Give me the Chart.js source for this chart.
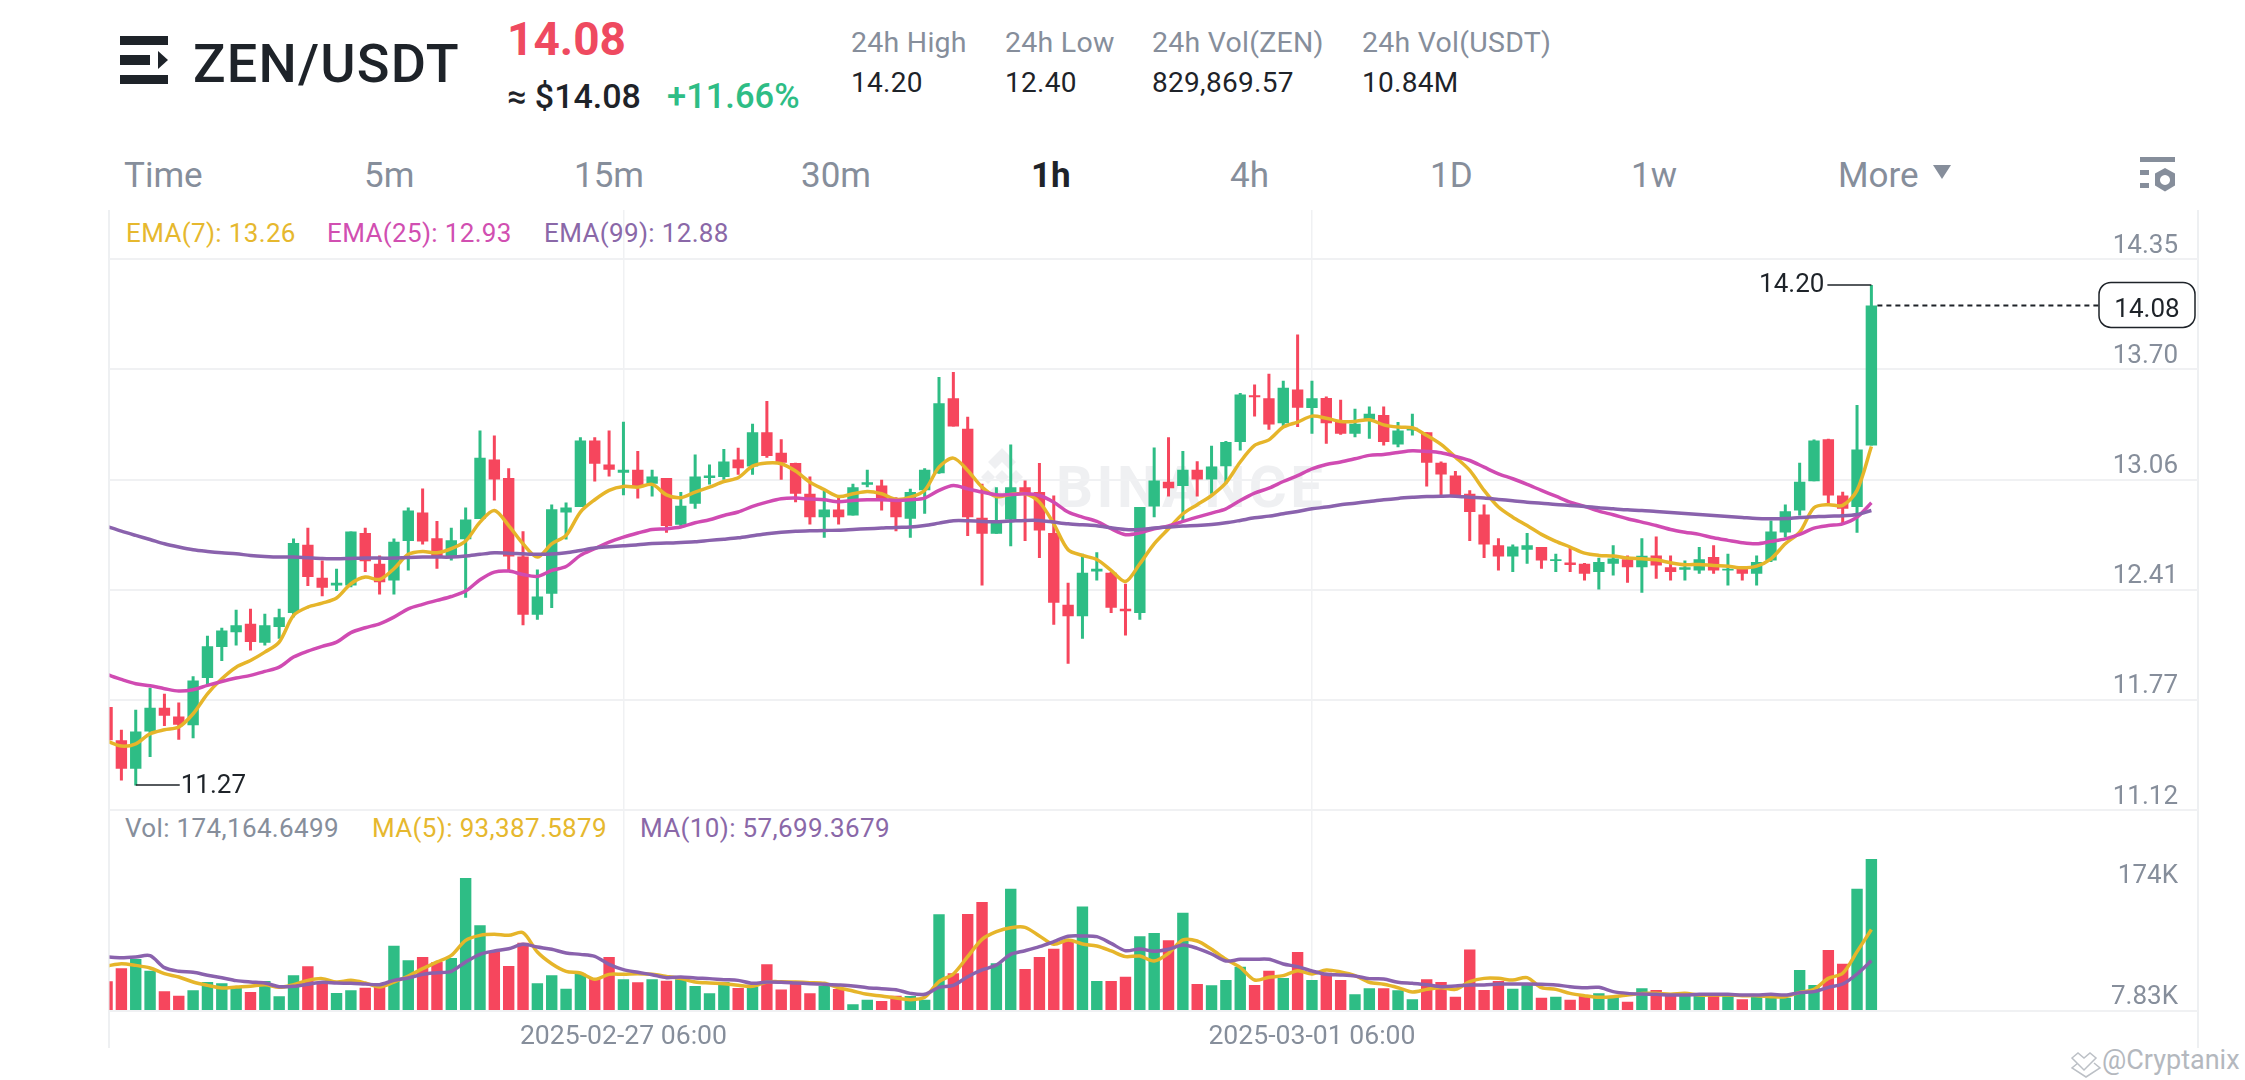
<!DOCTYPE html>
<html>
<head>
<meta charset="utf-8">
<title>ZEN/USDT</title>
<script src="https://cdn.jsdelivr.net/npm/chart.js@4/dist/chart.umd.js"></script>
<style>
  html, body { margin: 0; padding: 0; background: #fff; }
  body { width: 2245px; height: 1080px; overflow: hidden; position: relative; font-family: Roboto, sans-serif; color: #1e2329; }
  canvas { position: absolute; left: 0; }
  #priceChart { top: 210px; }
  #volChart { top: 810px; }
  .t { position: absolute; white-space: nowrap; line-height: 1; transform: translateY(-50%); }
  .gray { color: #868e9b; }
  .tab { font-size: 35px; color: #868e9b; top: 175px; }
  .head { font-size: 28.5px; color: #868e9b; top: 43px; letter-spacing: .25px; }
  .val { font-size: 28px; color: #1e2329; top: 83px; letter-spacing: .3px; }
  .leg { font-size: 26px; letter-spacing: .35px; }
  .frame { position: absolute; top: 210px; height: 838px; width: 2px; background: #eef0f2; }
</style>
</head>
<body>
<div class="frame" style="left:108px"></div>
<div class="frame" style="left:2197px"></div>

<svg style="position:absolute;left:0;top:0" width="2245" height="1080">
  <!-- header logo -->
  <g fill="#1e2329">
    <rect x="120" y="36" width="48" height="9"/>
    <rect x="120" y="55" width="30" height="10"/>
    <polygon points="158,51 168,60 158,69"/>
    <rect x="120" y="75" width="48" height="9"/>
  </g>
  <!-- settings icon -->
  <g fill="#868e9b">
    <rect x="2140" y="157" width="35" height="5"/>
    <rect x="2140" y="170" width="9" height="5"/>
    <rect x="2140" y="183" width="9" height="5"/>
    <path fill-rule="evenodd" d="M2165 168l10 5.500v12l-10 6l-10-6v-12zM2165 175a5 5 0 1 0 .01 0z"/>
    <polygon points="1933,165 1951,165 1942,179"/>
  </g>
  <!-- BINANCE mark -->
  <g fill="#eff0f2">
    <path d="M1002 448l14 14-7 7-7-7-7 7-7-7zM981 477l7-7 7 7-7 7zM1009 477l7-7 7 7-7 7zM995 477l7-7 7 7-7 7zM1002 507l-14-14 7-7 7 7 7-7 7 7z"/>
  </g>
  <!-- footer mark -->
  <g fill="none" stroke="#bcc0c6" stroke-width="1.500">
    <path d="M2072 1058l6-5 6 5 6-5 6 5-12 12zM2078 1063l-6 5 14 9 14-9-6-5"/>
  </g>
</svg>
<div class="t" style="left:1056px;top:487px;font-size:58px;font-weight:700;color:#eff0f2;letter-spacing:3.5px">BINANCE</div>
<div class="t" style="left:2102px;top:1060px;font-size:27px;color:#b4b8be">@Cryptanix</div>

<div class="t" style="left:193px;top:64px;font-size:54px;font-weight:500;letter-spacing:1.2px">ZEN/USDT</div>
<div class="t" style="left:507px;top:39px;font-size:46px;font-weight:700;color:#ef4a60">14.08</div>
<div class="t" style="left:507px;top:96px;font-size:34px;font-weight:500">≈ $14.08</div>
<div class="t" style="left:667px;top:96px;font-size:34.5px;font-weight:500;color:#2ebd85">+11.66%</div>

<div class="t head" style="left:851px">24h High</div>
<div class="t val" style="left:851px">14.20</div>
<div class="t head" style="left:1005px">24h Low</div>
<div class="t val" style="left:1005px">12.40</div>
<div class="t head" style="left:1152px">24h Vol(ZEN)</div>
<div class="t val" style="left:1152px">829,869.57</div>
<div class="t head" style="left:1362px">24h Vol(USDT)</div>
<div class="t val" style="left:1362px">10.84M</div>

<div class="t tab" style="left:124px">Time</div>
<div class="t tab" style="left:364px">5m</div>
<div class="t tab" style="left:574px">15m</div>
<div class="t tab" style="left:801px">30m</div>
<div class="t tab" style="left:1031px;color:#1e2329;font-weight:700">1h</div>
<div class="t tab" style="left:1230px">4h</div>
<div class="t tab" style="left:1430px">1D</div>
<div class="t tab" style="left:1631px">1w</div>
<div class="t tab" style="left:1838px">More</div>

<div class="t leg" style="left:126px;top:233px;color:#e6b82e">EMA(7): 13.26</div>
<div class="t leg" style="left:327px;top:233px;color:#d14fb1">EMA(25): 12.93</div>
<div class="t leg" style="left:544px;top:233px;color:#8a68a8">EMA(99): 12.88</div>
<div class="t leg gray" style="left:125px;top:828px">Vol: 174,164.6499</div>
<div class="t leg" style="left:372px;top:828px;color:#e6b82e">MA(5): 93,387.5879</div>
<div class="t leg" style="left:640px;top:828px;color:#8a68a8">MA(10): 57,699.3679</div>

<canvas id="priceChart" width="2245" height="602"></canvas>
<canvas id="volChart" width="2245" height="240"></canvas>

<script>
const openPrices = [11.726,11.531,11.365,11.583,11.722,11.671,11.619,11.896,12.078,12.165,12.214,12.103,12.195,12.277,12.677,12.484,12.439,12.439,12.746,12.566,12.468,12.699,12.867,12.716,12.605,12.710,12.828,13.177,13.068,12.609,12.267,12.390,12.867,12.898,13.288,13.148,13.099,13.117,13.035,13.068,12.794,12.917,13.068,13.074,13.177,13.136,13.337,13.216,13.156,12.976,12.839,12.884,12.849,13.029,13.025,12.937,12.830,12.996,13.097,13.536,13.357,12.835,12.742,12.826,13.015,12.986,12.746,12.326,12.259,12.521,12.513,12.302,12.277,12.902,13.046,13.021,13.117,13.060,13.138,13.279,13.554,13.536,13.390,13.587,13.478,13.538,13.396,13.328,13.411,13.437,13.265,13.347,13.337,13.158,13.083,12.976,12.855,12.675,12.609,12.648,12.664,12.582,12.574,12.566,12.517,12.566,12.593,12.546,12.615,12.546,12.531,12.527,12.605,12.527,12.537,12.507,12.585,12.749,12.878,13.050,13.296,12.966,12.898,13.259];
const closePrices = [11.531,11.365,11.583,11.722,11.675,11.623,11.882,12.083,12.175,12.205,12.107,12.205,12.253,12.687,12.488,12.425,12.455,12.755,12.580,12.458,12.695,12.878,12.697,12.609,12.703,12.826,13.187,13.060,12.609,12.267,12.374,12.886,12.896,13.288,13.152,13.117,13.117,13.015,13.078,12.787,12.906,13.078,13.083,13.165,13.126,13.337,13.197,13.158,12.976,12.839,12.884,12.839,13.015,13.044,12.933,12.839,12.986,13.117,13.507,13.370,12.839,12.742,12.820,13.015,12.976,12.761,12.337,12.259,12.513,12.537,12.308,12.287,12.898,13.054,13.009,13.117,13.060,13.136,13.279,13.558,13.542,13.382,13.597,13.480,13.536,13.390,13.328,13.386,13.445,13.279,13.347,13.363,13.158,13.089,12.966,12.869,12.679,12.609,12.667,12.675,12.585,12.593,12.558,12.507,12.576,12.597,12.546,12.613,12.556,12.517,12.546,12.593,12.527,12.537,12.507,12.576,12.755,12.874,13.046,13.288,12.966,12.888,13.236,14.079];
const highPrices = [11.726,11.593,11.710,11.839,11.804,11.753,11.906,12.144,12.191,12.296,12.302,12.273,12.302,12.714,12.777,12.585,12.537,12.755,12.777,12.615,12.714,12.896,13.007,12.816,12.777,12.896,13.347,13.318,13.126,12.757,12.533,12.913,12.925,13.308,13.308,13.347,13.398,13.226,13.117,13.068,12.986,13.206,13.148,13.238,13.246,13.386,13.519,13.296,13.158,13.078,12.992,12.953,13.035,13.117,13.058,12.956,13.005,13.126,13.660,13.689,13.427,13.035,13.015,13.265,13.054,13.156,12.966,12.455,12.624,12.634,12.517,12.449,12.898,13.247,13.308,13.226,13.167,13.257,13.286,13.566,13.617,13.679,13.638,13.910,13.638,13.546,13.527,13.474,13.488,13.488,13.396,13.445,13.337,13.165,13.109,12.996,12.913,12.716,12.679,12.746,12.664,12.624,12.664,12.570,12.601,12.675,12.615,12.716,12.726,12.615,12.585,12.664,12.675,12.624,12.546,12.615,12.820,12.913,13.158,13.294,13.298,12.988,13.497,14.200];
const lowPrices = [11.531,11.296,11.267,11.433,11.615,11.535,11.544,11.853,11.996,12.087,12.058,12.087,12.126,12.253,12.435,12.376,12.406,12.429,12.517,12.386,12.386,12.527,12.679,12.537,12.585,12.367,12.828,12.937,12.527,12.205,12.238,12.306,12.708,12.898,13.048,13.078,12.968,12.949,12.960,12.747,12.781,12.888,13.031,13.058,13.087,13.087,13.187,13.058,12.927,12.796,12.718,12.796,12.849,13.015,12.878,12.757,12.718,12.859,13.093,13.370,12.728,12.439,12.742,12.669,12.699,12.599,12.208,11.980,12.126,12.468,12.277,12.146,12.238,12.839,12.960,12.810,12.960,12.976,13.035,13.230,13.429,13.351,13.367,13.367,13.328,13.269,13.322,13.308,13.298,13.259,13.249,13.318,13.019,12.966,12.966,12.699,12.599,12.527,12.517,12.566,12.537,12.517,12.517,12.468,12.415,12.497,12.455,12.396,12.478,12.468,12.468,12.507,12.507,12.439,12.468,12.439,12.576,12.722,12.849,13.050,12.908,12.800,12.747,13.259];
const ema7 = [11.527,11.498,11.511,11.570,11.593,11.609,11.687,11.804,11.892,11.960,11.999,12.048,12.107,12.263,12.312,12.335,12.365,12.449,12.488,12.474,12.537,12.621,12.638,12.630,12.654,12.699,12.810,12.878,12.790,12.683,12.605,12.683,12.732,12.869,12.941,12.996,13.019,13.015,13.031,12.970,12.953,12.986,13.015,13.048,13.070,13.138,13.156,13.152,13.109,13.044,13.001,12.960,12.976,12.990,12.976,12.943,12.956,12.996,13.132,13.185,13.113,13.015,12.960,12.972,12.976,12.927,12.800,12.648,12.615,12.591,12.527,12.462,12.566,12.683,12.771,12.859,12.912,12.966,13.040,13.162,13.259,13.292,13.367,13.396,13.431,13.419,13.400,13.400,13.410,13.380,13.367,13.363,13.318,13.265,13.191,13.113,12.996,12.898,12.839,12.790,12.738,12.697,12.664,12.628,12.615,12.611,12.599,12.595,12.589,12.572,12.560,12.562,12.556,12.552,12.542,12.552,12.595,12.683,12.751,12.894,12.912,12.908,12.996,13.253];
const ema25 = [11.917,11.888,11.863,11.851,11.834,11.820,11.828,11.853,11.876,11.896,11.912,11.935,11.960,12.019,12.054,12.082,12.107,12.162,12.191,12.214,12.253,12.302,12.328,12.351,12.374,12.406,12.472,12.517,12.523,12.503,12.492,12.527,12.550,12.615,12.654,12.693,12.722,12.746,12.767,12.771,12.781,12.806,12.824,12.849,12.869,12.902,12.927,12.947,12.951,12.945,12.941,12.929,12.937,12.941,12.941,12.937,12.941,12.951,12.996,13.025,13.005,12.986,12.970,12.972,12.976,12.966,12.927,12.869,12.839,12.814,12.771,12.736,12.747,12.771,12.787,12.814,12.839,12.863,12.888,12.937,12.980,13.009,13.048,13.083,13.122,13.148,13.162,13.181,13.201,13.206,13.218,13.228,13.224,13.216,13.195,13.171,13.132,13.093,13.064,13.031,12.996,12.962,12.927,12.902,12.874,12.853,12.830,12.810,12.790,12.767,12.751,12.738,12.718,12.703,12.689,12.683,12.697,12.712,12.738,12.775,12.790,12.800,12.839,12.923];
const ema99 = [12.785,12.757,12.732,12.708,12.683,12.664,12.648,12.638,12.630,12.624,12.615,12.609,12.605,12.605,12.601,12.597,12.595,12.597,12.599,12.599,12.599,12.603,12.605,12.605,12.605,12.611,12.621,12.630,12.628,12.624,12.621,12.623,12.630,12.644,12.658,12.665,12.671,12.677,12.685,12.687,12.691,12.695,12.703,12.710,12.718,12.730,12.742,12.751,12.757,12.759,12.761,12.763,12.767,12.771,12.775,12.779,12.781,12.790,12.804,12.818,12.818,12.814,12.812,12.816,12.820,12.820,12.810,12.800,12.794,12.789,12.777,12.767,12.767,12.775,12.781,12.787,12.790,12.796,12.806,12.820,12.835,12.845,12.859,12.872,12.888,12.898,12.912,12.921,12.931,12.941,12.949,12.955,12.960,12.962,12.962,12.956,12.951,12.943,12.935,12.927,12.921,12.913,12.908,12.902,12.894,12.888,12.882,12.878,12.872,12.867,12.861,12.855,12.849,12.843,12.837,12.831,12.830,12.831,12.837,12.841,12.845,12.847,12.855,12.878];
const volumes = [34000,48900,59600,46200,22500,17600,23700,33200,31700,27500,21800,34400,16800,40900,51200,33200,20600,23700,26700,27500,74900,58100,61900,56200,60700,152400,98200,67600,51600,78300,31700,40900,25600,42800,37100,61900,36300,32900,36300,34800,36300,28700,20200,33200,26400,27500,53500,24600,32500,20200,28700,25200,7600,13000,11500,17600,17200,13000,110800,43200,111200,124900,54600,140200,48100,61900,71400,81400,119900,34400,34400,39300,85600,89400,81000,112700,30900,29400,35500,50800,29800,46200,37800,67600,35500,43900,35500,19100,26000,26000,23700,13400,36300,33200,16400,70500,24100,34400,25600,29800,15300,16400,13000,17200,20200,16400,10700,26000,24100,18300,18300,18300,18300,17600,13400,17600,17600,15300,47000,29800,69900,54200,140200,174165];
const ma5 = [51600,54200,52300,49300,42800,39000,33200,29400,26400,27500,28300,30200,27100,30200,35100,37100,33200,35100,32100,27500,33200,40100,48500,56200,63800,81000,86700,87900,86700,89800,67600,54200,45500,43500,36300,42000,42000,42800,42000,39700,37100,33200,32100,31300,29400,28300,33200,33600,33200,32500,31700,26700,22900,19100,17200,14900,13000,15700,33600,42400,62300,82100,90900,95500,95900,86000,76400,81400,76800,74500,68800,62300,63000,57300,66100,81400,80200,70700,59200,50000,35500,38600,40500,46200,42400,47000,44700,40500,32900,30600,26700,21800,24800,26700,24800,33600,37400,37400,35500,38200,26700,24800,20200,17600,15700,16400,18300,20200,20200,19100,20200,18300,18300,18300,17600,17600,16400,16400,21400,24800,37400,43200,68000,93388];
const ma10 = [61900,61100,61900,63400,49700,45500,44300,40900,38200,34800,33200,32100,27900,28300,30600,32900,32100,31700,30900,30200,35100,37800,42000,43900,45500,56200,64900,68800,71400,76400,73300,70700,66500,64900,62600,53500,47400,44300,41600,38200,39000,37800,37100,35900,35100,31700,33200,32900,32100,31300,30600,29800,28700,26700,25600,24400,20200,19100,27100,29400,39300,47000,52700,64900,69100,73700,79500,85600,86000,85200,77500,69100,71100,68400,70700,75600,71800,65300,57300,59200,59200,59200,53900,50800,45800,42000,41300,40100,37100,36700,32900,31700,30200,27900,28700,29800,29800,30900,30900,30900,30600,29800,27900,26700,27100,22200,20200,19500,19100,18300,18300,19100,19100,19100,18300,18300,19100,18300,21000,22200,27100,30900,42400,57699];
const priceTicks = [14.35,13.7045,13.059,12.4135,11.768,11.1225];
const timeTicks = [36,84];
const timeLabels = ['2025-02-27 06:00','2025-03-01 06:00'];
const volTickLow = '7.83K';
const volTickHigh = 174165;
const volTickHighLabel = '174K';
const lastPrice = 14.08;
const highMark = 14.20, highIdx = 123;
const lowMark = 11.27, lowIdx = 2;

const UP = '#2ebd85', DOWN = '#f6465d', GRID = '#f0f1f3', TEXT = '#868e9b', DARK = '#1e2329';
const YELLOW = '#e6b52a', PINK = '#d04bb2', PURPLE = '#8a62ad';
const FONT = { family: 'Roboto', size: 26 };
const xMin = 0.171, xMax = 145.77;

const candleColors = closePrices.map((c, i) => (c >= openPrices[i] ? UP : DOWN));
const xy = arr => arr.map((v, i) => ({ x: i, y: v }));

function noPadding(s) {
  s.paddingTop = s.paddingBottom = s.paddingLeft = s.paddingRight = 0;
}

function lineSet(data, color, yAxisID) {
  return { type: 'line', data: xy(data), borderColor: color, borderWidth: 3.5, pointRadius: 0, tension: 0.3, order: 0, yAxisID };
}

function xAxis(showLabels, height) {
  return {
    type: 'linear', min: xMin, max: xMax, offset: false,
    border: { display: false },
    grid: { color: GRID, lineWidth: 1.5, drawTicks: false, offset: false },
    afterBuildTicks: s => { s.ticks = timeTicks.map(v => ({ value: v })); },
    ticks: {
      display: showLabels, autoSkip: false, maxRotation: 0, padding: 10, color: TEXT,
      font: { family: 'Roboto', size: 26.6 },
      callback: v => timeLabels[timeTicks.indexOf(v)]
    },
    afterFit: s => { s.height = height; noPadding(s); }
  };
}

function yAxis(min, max, values, label, offset, showGrid) {
  return {
    position: 'right', min, max,
    border: { display: false },
    grid: { display: showGrid, color: GRID, lineWidth: 2, drawTicks: false },
    afterBuildTicks: s => { s.ticks = values.map(v => ({ value: v })); },
    ticks: { mirror: true, padding: -20, labelOffset: offset, autoSkip: false, color: TEXT, font: FONT, callback: label },
    afterFit: s => { s.width = 0; noPadding(s); }
  };
}

// price marks: high / low call-outs and last price box
const priceMarks = {
  id: 'priceMarks',
  afterDraw(chart) {
    const c = chart.ctx, x = chart.scales.x, y = chart.scales.y;
    c.save();
    c.strokeStyle = DARK;
    c.fillStyle = DARK;
    c.lineWidth = 1.5;
    c.font = '26px Roboto';
    c.textBaseline = 'middle';

    const hx = x.getPixelForValue(highIdx), hy = y.getPixelForValue(highMark);
    c.beginPath(); c.moveTo(hx, hy); c.lineTo(hx - 44, hy); c.stroke();
    c.textAlign = 'right';
    c.fillText(highMark.toFixed(2), hx - 47, hy + 1);

    const lx = x.getPixelForValue(lowIdx), ly = y.getPixelForValue(lowMark);
    c.beginPath(); c.moveTo(lx, ly); c.lineTo(lx + 44, ly); c.stroke();
    c.textAlign = 'left';
    c.fillText(lowMark.toFixed(2), lx + 45, ly + 2);

    const py = y.getPixelForValue(lastPrice), right = chart.chartArea.right;
    c.lineWidth = 2;
    c.setLineDash([5, 4]);
    c.beginPath(); c.moveTo(x.getPixelForValue(highIdx) + 6, py); c.lineTo(right - 99, py); c.stroke();
    c.setLineDash([]);
    c.lineWidth = 1.5;
    c.fillStyle = '#fff';
    c.beginPath(); c.roundRect(right - 99, py - 23, 96, 45, 12); c.fill(); c.stroke();
    c.fillStyle = DARK;
    c.textAlign = 'center';
    c.fillText(lastPrice.toFixed(2), right - 51, py + 5);
    c.restore();
  }
};

new Chart(document.getElementById('priceChart'), {
  type: 'bar',
  data: {
    datasets: [
      lineSet(ema99, PURPLE, 'y'),
      lineSet(ema25, PINK, 'y'),
      lineSet(ema7, YELLOW, 'y'),
      {
        data: openPrices.map((o, i) => ({ x: i, y: [o, closePrices[i]] })),
        backgroundColor: candleColors, barThickness: 11.4, order: 1, grouped: false, inflateAmount: 0
      },
      {
        data: lowPrices.map((l, i) => ({ x: i, y: [l, highPrices[i]] })),
        backgroundColor: candleColors, barThickness: 3, order: 2, grouped: false, inflateAmount: 0
      }
    ]
  },
  options: {
    responsive: false, animation: false, devicePixelRatio: 1,
    layout: { autoPadding: false, padding: { left: 109.5, right: 47, top: 0, bottom: 1.5 } },
    plugins: { legend: { display: false }, tooltip: { enabled: false } },
    events: [],
    scales: {
      x: xAxis(false, 0),
      y: yAxis(11.12, 14.639, priceTicks, v => v.toFixed(2), -13, true)
    }
  },
  plugins: [priceMarks]
});

new Chart(document.getElementById('volChart'), {
  type: 'bar',
  data: {
    datasets: [
      lineSet(ma10, PURPLE, 'y'),
      lineSet(ma5, YELLOW, 'y'),
      {
        data: xy(volumes),
        backgroundColor: candleColors, barThickness: 11.4, order: 1, grouped: false, inflateAmount: 0
      }
    ]
  },
  options: {
    responsive: false, animation: false, devicePixelRatio: 1,
    layout: { autoPadding: false, padding: { left: 109.5, right: 47, top: 0, bottom: 0 } },
    plugins: { legend: { display: false }, tooltip: { enabled: false } },
    events: [],
    scales: {
      x: xAxis(true, 39),
      y: yAxis(0, 230346, [0], () => volTickLow, -14, true),
      y2: yAxis(0, 230346, [volTickHigh], () => volTickHighLabel, 17, false)
    }
  }
});
</script>
</body>
</html>
